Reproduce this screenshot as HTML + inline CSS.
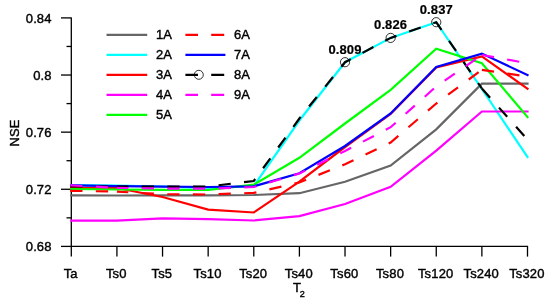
<!DOCTYPE html>
<html><head><meta charset="utf-8"><title>NSE chart</title>
<style>
html,body{margin:0;padding:0;background:#fff;}
svg{display:block;}
text{font-family:"Liberation Sans",Arial,sans-serif;font-size:13px;fill:#000;stroke:#000;stroke-width:0.4px;letter-spacing:0.1px;}
.b{font-weight:bold;stroke-width:0.2px;}
.ln{fill:none;stroke-width:2.2;stroke-linejoin:miter;stroke-linecap:butt;}
.sq{stroke-linecap:square;}
.ax{stroke:#000;stroke-width:1.3;fill:none;shape-rendering:auto;}
</style></head><body>
<svg width="550" height="303" viewBox="0 0 550 303">
<rect width="550" height="303" fill="#fff"/>

<path class="ax" d="M71.3 17.4 V246.4 H528.1"/>
<path class="ax" d="M61 17.90 H71.3"/>
<path class="ax" d="M66.5 46.46 H71.3"/>
<path class="ax" d="M61 75.03 H71.3"/>
<path class="ax" d="M66.5 103.59 H71.3"/>
<path class="ax" d="M61 132.15 H71.3"/>
<path class="ax" d="M66.5 160.71 H71.3"/>
<path class="ax" d="M61 189.28 H71.3"/>
<path class="ax" d="M66.5 217.84 H71.3"/>
<path class="ax" d="M61 246.40 H71.3"/>
<path class="ax" d="M71.30 246.4 V256.6"/>
<path class="ax" d="M116.92 246.4 V256.6"/>
<path class="ax" d="M162.54 246.4 V256.6"/>
<path class="ax" d="M208.16 246.4 V256.6"/>
<path class="ax" d="M253.78 246.4 V256.6"/>
<path class="ax" d="M299.40 246.4 V256.6"/>
<path class="ax" d="M345.02 246.4 V256.6"/>
<path class="ax" d="M390.64 246.4 V256.6"/>
<path class="ax" d="M436.26 246.4 V256.6"/>
<path class="ax" d="M481.88 246.4 V256.6"/>
<path class="ax" d="M527.50 246.4 V256.6"/>
<polyline class="ln sq" stroke="#666666" points="71.30,195.40 116.92,195.50 162.54,195.40 208.16,195.40 253.78,195.00 299.40,193.20 345.02,181.80 390.64,165.60 436.26,129.40 481.88,83.70 527.50,83.70"/>
<polyline class="ln sq" stroke="#00ffff" points="71.30,185.00 116.92,185.50 162.54,186.50 208.16,188.50 253.78,186.00 299.40,120.50 345.02,62.20 390.64,37.90 436.26,22.20 481.88,89.00 527.50,157.00"/>
<polyline class="ln sq" stroke="#ff0000" points="71.30,188.00 116.92,188.00 162.54,197.00 208.16,209.60 253.78,212.50 299.40,181.60 345.02,147.00 390.64,113.80 436.26,67.50 481.88,56.40 527.50,88.80"/>
<polyline class="ln sq" stroke="#ff00ff" points="71.30,220.70 116.92,220.70 162.54,218.30 208.16,219.20 253.78,220.50 299.40,216.10 345.02,204.00 390.64,186.80 436.26,150.60 481.88,111.50 527.50,111.50"/>
<polyline class="ln sq" stroke="#00ff00" points="71.30,189.00 116.92,189.50 162.54,189.80 208.16,190.00 253.78,184.60 299.40,157.80 345.02,123.50 390.64,89.90 436.26,48.80 481.88,63.20 527.50,117.00"/>
<polyline class="ln" stroke="#ff0000" stroke-dasharray="12.3 13.35" stroke-dashoffset="0" points="70.20,190.80 71.30,190.80 116.92,191.60"/>
<polyline class="ln" stroke="#ff0000" stroke-dasharray="12.3 13.35" stroke-dashoffset="0.9" points="116.92,191.60 162.54,194.20 208.16,194.50 253.78,192.90 299.40,182.50 345.02,164.30 390.64,142.50 436.26,103.50 481.88,69.80"/>
<polyline class="ln" stroke="#ff0000" stroke-dasharray="12.3 13.35" stroke-dashoffset="0" points="481.88,69.80 527.50,76.50 528.10,76.59"/>
<polyline class="ln sq" stroke="#0000ff" points="71.30,185.40 116.92,186.20 162.54,186.60 208.16,187.00 253.78,186.30 299.40,173.30 345.02,146.00 390.64,113.50 436.26,67.00 481.88,53.60 527.50,75.00"/>
<polyline class="ln" stroke="#000000" stroke-dasharray="12.3 13.35" stroke-dashoffset="0" points="70.20,186.40 71.30,186.40 116.92,186.60"/>
<polyline class="ln" stroke="#000000" stroke-dasharray="12.3 13.35" stroke-dashoffset="0.9" points="116.92,186.60 162.54,186.60 208.16,186.50 253.78,181.00 299.40,118.50 345.02,62.20 390.64,37.90 436.26,22.20 481.88,88.50"/>
<polyline class="ln" stroke="#000000" stroke-dasharray="12.3 13.35" stroke-dashoffset="0" points="481.88,88.50 527.50,139.50 528.10,140.17"/>
<circle cx="345.02" cy="62.20" r="4.6" fill="none" stroke="#000" stroke-width="0.8"/>
<circle cx="390.64" cy="37.90" r="4.6" fill="none" stroke="#000" stroke-width="0.8"/>
<circle cx="436.26" cy="22.20" r="4.6" fill="none" stroke="#000" stroke-width="0.8"/>
<polyline class="ln" stroke="#ff00ff" stroke-dasharray="12.3 13.35" stroke-dashoffset="0" points="70.20,185.40 71.30,185.40 116.92,187.80"/>
<polyline class="ln" stroke="#ff00ff" stroke-dasharray="12.3 13.35" stroke-dashoffset="0.9" points="116.92,187.80 162.54,188.60 208.16,188.70 253.78,187.00 299.40,173.50 345.02,151.00 390.64,127.20 436.26,86.40 481.88,55.00"/>
<polyline class="ln" stroke="#ff00ff" stroke-dasharray="12.3 13.35" stroke-dashoffset="0" points="481.88,55.00 527.50,63.20 528.10,63.31"/>
<text x="51.5" y="22.6" text-anchor="end">0.84</text>
<text x="51.5" y="79.7" text-anchor="end">0.8</text>
<text x="51.5" y="136.8" text-anchor="end">0.76</text>
<text x="51.5" y="194.0" text-anchor="end">0.72</text>
<text x="51.5" y="251.1" text-anchor="end">0.68</text>
<text x="70.7" y="277.7" text-anchor="middle" style="letter-spacing:0.15px">Ta</text>
<text x="116.3" y="277.7" text-anchor="middle" style="letter-spacing:0.15px">Ts0</text>
<text x="161.9" y="277.7" text-anchor="middle" style="letter-spacing:0.15px">Ts5</text>
<text x="207.6" y="277.7" text-anchor="middle" style="letter-spacing:0.15px">Ts10</text>
<text x="253.2" y="277.7" text-anchor="middle" style="letter-spacing:0.15px">Ts20</text>
<text x="298.8" y="277.7" text-anchor="middle" style="letter-spacing:0.15px">Ts40</text>
<text x="344.4" y="277.7" text-anchor="middle" style="letter-spacing:0.15px">Ts60</text>
<text x="390.0" y="277.7" text-anchor="middle" style="letter-spacing:0.15px">Ts80</text>
<text x="435.7" y="277.7" text-anchor="middle" style="letter-spacing:0.15px">Ts120</text>
<text x="481.3" y="277.7" text-anchor="middle" style="letter-spacing:0.15px">Ts240</text>
<text x="526.9" y="277.7" text-anchor="middle" style="letter-spacing:0.15px">Ts320</text>
<text transform="translate(19.2,133) rotate(-90)" text-anchor="middle">NSE</text>
<text x="293.1" y="292.1">T<tspan dx="-1.3" dy="4.6" font-size="9px">2</tspan></text>
<text class="b" x="345.0" y="53.7" text-anchor="middle">0.809</text>
<text class="b" x="390.6" y="29.4" text-anchor="middle">0.826</text>
<text class="b" x="436.3" y="13.7" text-anchor="middle">0.837</text>
<path class="ln" stroke="#666666" d="M106.5 34.8 H147.2"/>
<text x="156" y="39.4">1A</text>
<path class="ln" stroke="#00ffff" d="M106.5 54.8 H147.2"/>
<text x="156" y="59.4">2A</text>
<path class="ln" stroke="#ff0000" d="M106.5 74.8 H147.2"/>
<text x="156" y="79.4">3A</text>
<path class="ln" stroke="#ff00ff" d="M106.5 94.8 H147.2"/>
<text x="156" y="99.4">4A</text>
<path class="ln" stroke="#00ff00" d="M106.5 114.8 H147.2"/>
<text x="156" y="119.4">5A</text>
<path class="ln" stroke="#ff0000" d="M185.4 34.8 H198 M211.2 34.8 H224.2"/>
<text x="234" y="39.4">6A</text>
<path class="ln" stroke="#0000ff" d="M185.4 54.8 H225.4"/>
<text x="234" y="59.4">7A</text>
<path class="ln" stroke="#000000" d="M185.4 74.8 H198 M211.2 74.8 H224.2"/>
<circle cx="198.8" cy="74.8" r="4.5" fill="none" stroke="#000" stroke-width="0.8"/>
<text x="234" y="79.4">8A</text>
<path class="ln" stroke="#ff00ff" d="M185.4 94.8 H198 M211.2 94.8 H224.2"/>
<text x="234" y="99.4">9A</text>
</svg></body></html>
